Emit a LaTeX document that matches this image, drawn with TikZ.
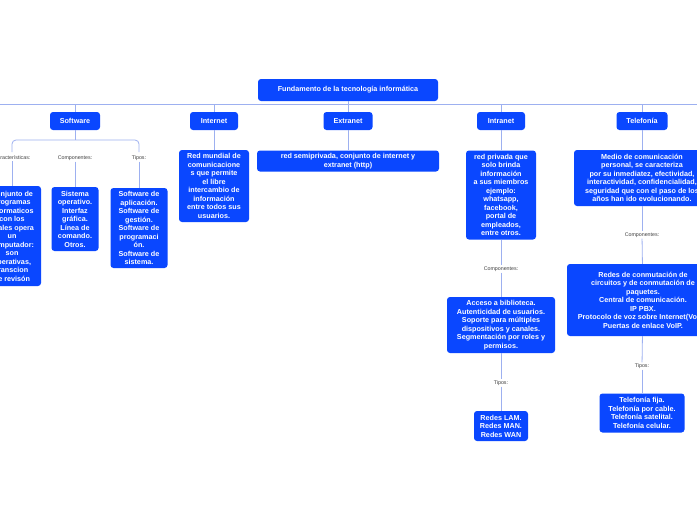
\documentclass[tikz,border=0pt]{standalone}
\usepackage{fontspec}
\setmainfont{Liberation Sans}
\definecolor{bx}{HTML}{0A47FF}
\definecolor{ln}{HTML}{9DB0F0}
\begin{document}
\begin{tikzpicture}[x=1pt,y=-1pt,
 box/.style={fill=bx,rounded corners=3pt,text=white,font=\bfseries\fontsize{7.2}{8.5}\selectfont,align=center,inner sep=2pt},
 lab/.style={font=\fontsize{5.3}{6}\selectfont,text=black!75,fill=white,inner sep=1pt},
 con/.style={draw=ln,line width=0.8pt}]
\useasboundingbox (0,0) rectangle (697,520);
\fill[white] (0,0) rectangle (697,520);
\draw[con] (0,104) -- (697,104);
\node[box,minimum width=180,minimum height=22] (root) at (348,90) {Fundamento de la tecnología informática};
\node[box,minimum width=50,minimum height=18] (sw) at (75,121) {Software};
\node[box,minimum width=48,minimum height=18] (in) at (214,121) {Internet};
\node[box,minimum width=49,minimum height=18] (ex) at (348,121) {Extranet};
\node[box,minimum width=48,minimum height=18] (it) at (501,121) {Intranet};
\node[box,minimum width=51,minimum height=18] (te) at (642,121) {Telefonía};
\foreach \n/\x in {sw/75,in/214,ex/348,it/501,te/642}{\draw[con] (\x,104) -- (\n.north);}
\draw[con] (root.south) -- (348,104);
\coordinate (sb) at (75,140);
\draw[con] (sw.south) -- (sb);
\draw[con,rounded corners=4pt] (12,152) -- (12,140) -- (139,140) -- (139,152);
\node[lab] (sl1) at (12,158) {Características:};
\node[lab] (sl2) at (75,158) {Componentes:};
\node[lab] (sl3) at (139,158) {Tipos:};
\node[box,minimum width=58,minimum height=100] (sc1) at (12,236) {Conjunto de\\programas\\informaticos\\con los\\cuales opera\\un\\computador:\\son\\operativas,\\transcion\\de revisón};
\node[box,minimum width=47,minimum height=64] (sc2) at (75,219) {Sistema\\operativo.\\Interfaz\\gráfica.\\Línea de\\comando.\\Otros.};
\node[box,minimum width=57,minimum height=80] (sc3) at (139,228) {Software de\\aplicación.\\Software de\\gestión.\\Software de\\programaci\\ón.\\Software de\\sistema.};
\draw[con] (sl1) -- (sc1); \draw[con] (sl2) -- (sc2); \draw[con] (sl3) -- (sc3);
\node[box,minimum width=70,minimum height=72] (inb) at (214,186) {Red mundial de\\comunicacione\\s que permite\\el libre\\intercambio de\\información\\entre todos sus\\usuarios.};
\draw[con] (in) -- (inb);
\node[box,minimum width=182,minimum height=21] (exb) at (348,161) {red semiprivada, conjunto de internet y\\extranet (http)};
\draw[con] (ex) -- (exb);
\node[box,minimum width=70,minimum height=89] (itb) at (501,195) {red privada que\\solo brinda\\información\\a sus miembros\\ejemplo:\\whatsapp,\\facebook,\\portal de\\empleados,\\entre otros.};
\node[lab] (il1) at (501,269) {Componentes:};
\node[box,minimum width=108,minimum height=56] (itc) at (501,325) {Acceso a biblioteca.\\Autenticidad de usuarios.\\Soporte para múltiples\\dispositivos y canales.\\Segmentación por roles y\\permisos.};
\node[lab] (il2) at (501,383) {Tipos:};
\node[box,minimum width=54,minimum height=30] (itt) at (501,426) {Redes LAM.\\Redes MAN.\\Redes WAN};
\draw[con] (it) -- (itb); \draw[con] (itb) -- (il1); \draw[con] (il1) -- (itc); \draw[con] (itc) -- (il2); \draw[con] (il2) -- (itt);
\node[box,minimum width=136,minimum height=56] (teb) at (642,178) {Medio de comunicación\\personal, se caracteriza\\por su inmediatez, efectividad,\\interactividad, confidencialidad,\\seguridad que con el paso de los\\años han ido evolucionando.};
\node[lab] (tl1) at (642,235) {Componentes:};
\node[box,minimum width=152,minimum height=72] (tec) at (643,300) {Redes de conmutación de\\circuitos y de conmutación de\\paquetes.\\Central de comunicación.\\IP PBX.\\Protocolo de voz sobre Internet(VoIP).\\Puertas de enlace VoIP.};
\node[lab] (tl2) at (642,366) {Tipos:};
\node[box,minimum width=85,minimum height=39] (tet) at (642,413) {Telefonía fija.\\Telefonía por cable.\\Telefonía satelital.\\Telefonía celular.};
\draw[con] (te) -- (teb); \draw[con] (teb) -- (tl1); \draw[con] (tl1) -- (tec); \draw[con] (tec) -- (tl2); \draw[con] (tl2) -- (tet);
\end{tikzpicture}
\end{document}
